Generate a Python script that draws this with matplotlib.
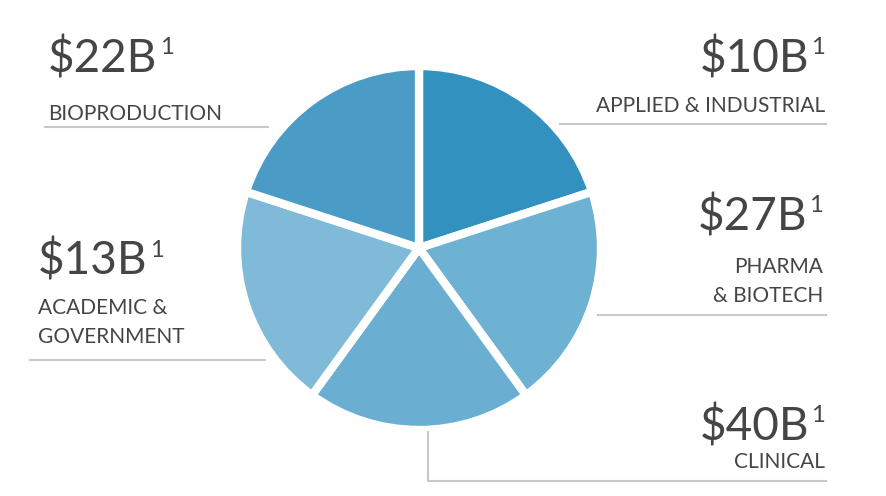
import matplotlib
matplotlib.use("Agg")
import matplotlib.pyplot as plt

# 5 equal slices, values shown only in labels
segments = ["APPLIED & INDUSTRIAL", "PHARMA\n& BIOTECH", "CLINICAL",
            "ACADEMIC &\nGOVERNMENT", "BIOPRODUCTION"]
values = ["$10B", "$27B", "$40B", "$13B", "$22B"]
sizes = [1, 1, 1, 1, 1]
colors = ["#3391c0", "#6db1d3", "#6aafd2", "#7fbad8", "#4a9bc6"]

W, H = 886, 496
fig = plt.figure(figsize=(W / 100, H / 100), dpi=100)
ax = fig.add_axes([0, 0, 1, 1])
ax.set_xlim(0, W)
ax.set_ylim(0, H)
ax.axis("off")

ax.pie(sizes, colors=colors, startangle=90, counterclock=False,
       center=(419, H - 248), radius=182,
       wedgeprops=dict(edgecolor="white", linewidth=6))
ax.set_xlim(0, W)
ax.set_ylim(0, H)
ax.set_aspect("equal")

TXT = "#454545"
LINE = "#c8c8c8"
FONT = "Lato"


def y(p):
    return H - p


def label(val, seg, x, vy, sy, align):
    # big value with superscript 1
    t = ax.text(x if align == "left" else x - 16, y(vy), val, fontsize=33,
                family=FONT, color=TXT, ha=align, va="baseline")
    if align == "left":
        fig.canvas.draw()
        bb = t.get_window_extent()
        ax.text(bb.x1 + 3, y(vy - 18), "1", fontsize=17, family=FONT,
                color=TXT, ha="left", va="baseline")
    else:
        ax.text(x, y(vy - 18), "1", fontsize=17, family=FONT,
                color=TXT, ha="right", va="baseline")
    ax.text(x, y(sy), seg, fontsize=15, family=FONT, color=TXT,
            ha=align, va="baseline", linespacing=1.55)


label(values[4], segments[4], 48, 72, 120, "left")
label(values[0], segments[0], 825, 72, 112, "right")
label(values[1], segments[1], 823, 230, 302, "right")
label(values[3], segments[3], 38, 275, 343, "left")
label(values[2], segments[2], 825, 440, 468, "right")

# leader lines
ax.plot([45, 268], [y(127), y(127)], color=LINE, lw=1.5)
ax.plot([560, 826], [y(124), y(124)], color=LINE, lw=1.5)
ax.plot([598, 826], [y(315), y(315)], color=LINE, lw=1.5)
ax.plot([30, 265], [y(360), y(360)], color=LINE, lw=1.5)
ax.plot([428, 428, 826], [y(432), y(481), y(481)], color=LINE, lw=1.5)

fig.savefig("out.png", dpi=100, facecolor="white")
